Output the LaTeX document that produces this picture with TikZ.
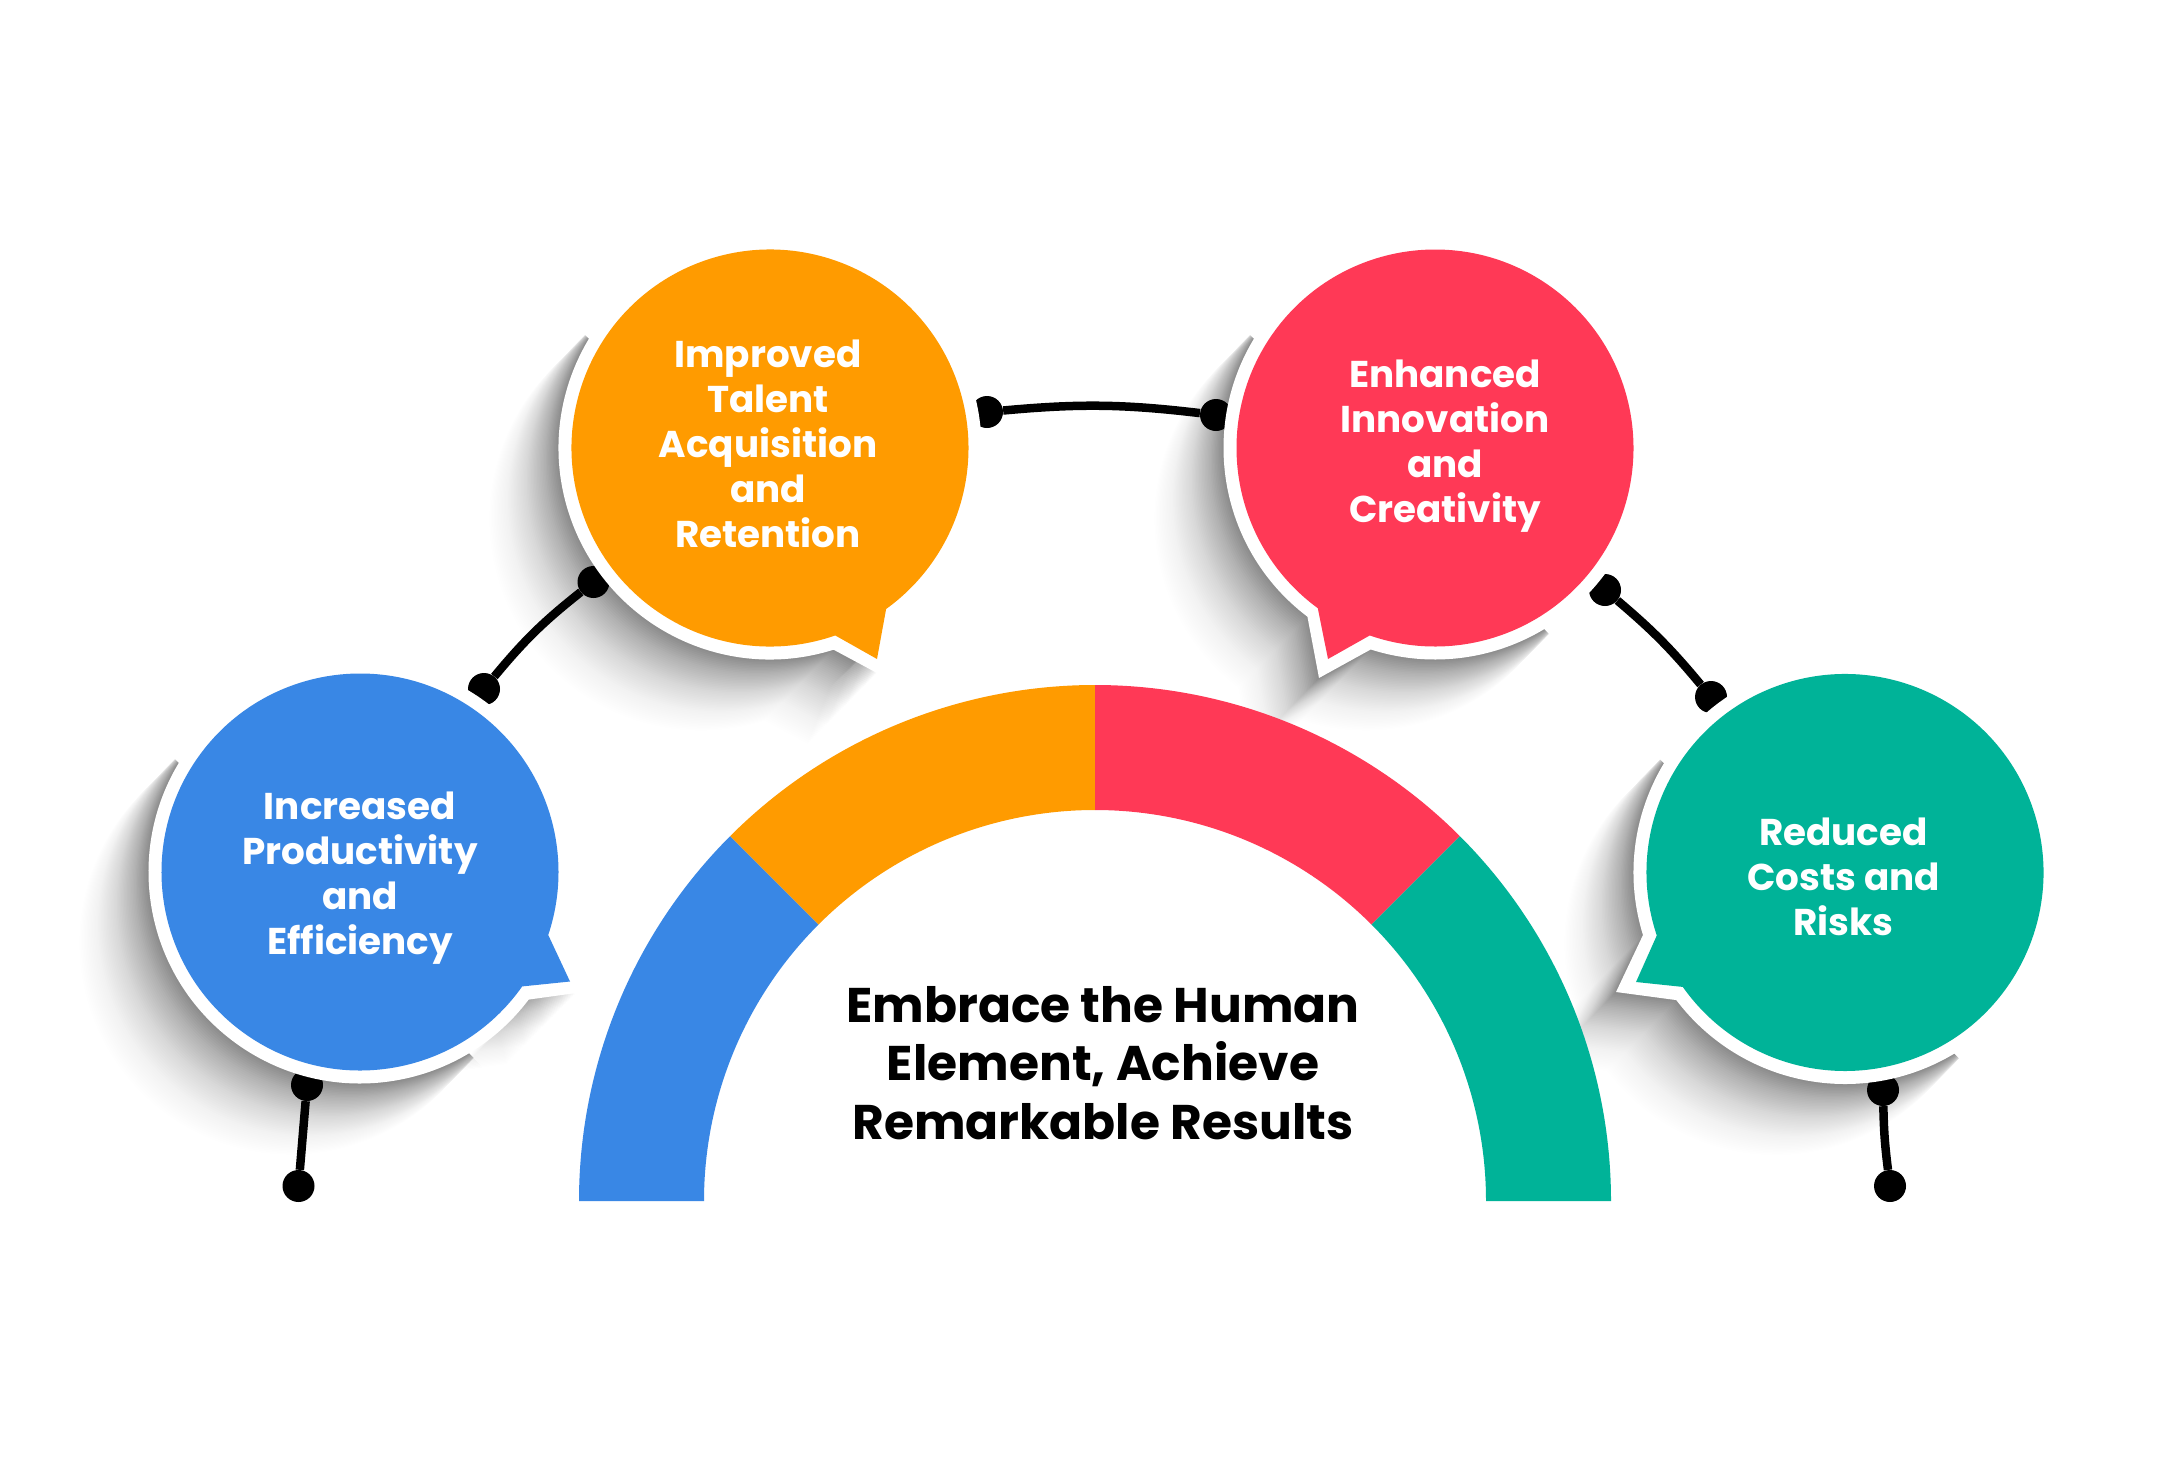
\documentclass[tikz,border=0pt]{standalone}
\usepackage{fontspec}
\setmainfont{Poppins}
\usepackage{tikz}
\usetikzlibrary{calc}

\definecolor{blueArc}{HTML}{3987E5}
\definecolor{orangeArc}{HTML}{FF9B00}
\definecolor{redArc}{HTML}{FF3956}
\definecolor{tealArc}{HTML}{00B398}

% circle with a tail: center, start angle, delta angle, radius, tip
\newcommand{\bubble}[5]{([shift={(#2:#4)}]#1) arc[start angle=#2, delta angle=#3, radius=#4] -- #5 -- cycle}
% arc part of the half ring: start angle, end angle
\newcommand{\ringpart}[2]{([shift={(#1:516)}]hub) arc[start angle=#1, end angle=#2, radius=516] -- ([shift={(#2:391)}]hub) arc[start angle=#2, end angle=#1, radius=391] -- cycle}

\begin{document}
\begin{tikzpicture}
      [x = 1pt, y = -1pt,
      dot/.style = {
         draw = none,
         fill = black,
         circle,
         inner sep = 0pt,
         minimum size = 32pt
      },
      wire/.style = {
         draw = black,
         line width = 8.5pt
      },
      halo/.style = {
         fill = black
      },
      label/.style = {
         text = white,
         align = center,
         font = \fontsize{37.3}{45}\selectfont\bfseries
      },
      title/.style = {
         text = black,
         align = center,
         font = \fontsize{48.7}{58.5}\selectfont\bfseries
      }]
      \useasboundingbox (0, 0) rectangle (2170, 1469);
      \fill[white] (0, 0) rectangle (2170, 1469);

      \coordinate (hub) at (1095, 1201);

      % soft shadows
      \foreach \bx/\by/\a/\d/\tx/\ty in {360/872/37.1/339/576/993,
                                         770/448/72.5/339.5/877/673,
                                         1435/448/127.1/340.6/1319/678,
                                         1845/872.5/162.8/340.1/1616/992} {
         \begin{scope}
            \clip ([shift = {(-336, -264)}]\bx,\by) -- ([shift = {(264, 336)}]\bx,\by)
               -- ([shift = {(-136, 736)}]\bx,\by) -- ([shift = {(-736, 136)}]\bx,\by) -- cycle;
            \foreach \t in {1,...,50} {
               \pgfmathsetmacro{\fade}{0.0164*(1-0.9*\t/50)}
               \fill[halo, opacity = \fade, shift = {({-1.44*\t}, {1.48*\t})}] \bubble{\bx,\by}{\a}{\d}{211.5}{(\tx, \ty)};
            }
         \end{scope}
      }
      % the blue tail points away from its shadow
      \foreach \t in {1,...,50} {
         \pgfmathsetmacro{\fade}{0.0164*(1-0.9*\t/50)}
         \fill[halo, opacity = \fade, shift = {({-1.44*\t}, {1.48*\t})}] \bubble{360,872}{37.1}{-21}{211.5}{(576, 993)};
      }

      % half ring
      \fill[blueArc] \ringpart{180}{225};
      \fill[orangeArc] \ringpart{225}{270};
      \fill[redArc] \ringpart{270}{315};
      \fill[tealArc] \ringpart{315}{360};

      % connectors
      \node[dot] (blueStem) at (298.5, 1186) {};
      \node[dot] (blueLow) at (307, 1085) {};
      \node[dot] (blueTop) at (484, 689) {};
      \node[dot] (orangeLow) at (593.5, 582) {};
      \node[dot] (orangeSide) at (987, 412) {};
      \node[dot] (redSide) at (1216, 415) {};
      \node[dot] (redLow) at (1605, 590) {};
      \node[dot] (tealTop) at (1711, 697) {};
      \node[dot] (tealLow) at (1883, 1090) {};
      \node[dot] (tealStem) at (1890, 1186) {};

      \draw[wire] (blueStem) -- (blueLow);
      \draw[wire] (blueTop) to[bend left = 6] (orangeLow);
      \draw[wire] (orangeSide) to[bend left = 6] (redSide);
      \draw[wire] (redLow) to[bend left = 5] (tealTop);
      \draw[wire] (tealLow) to[bend right = 3] (tealStem);

      % bubbles
      \fill[white] \bubble{360,872}{37.1}{339}{211.5}{(576, 993)};
      \fill[white] \bubble{770,448}{72.5}{339.5}{211.5}{(877, 673)};
      \fill[white] \bubble{1435,448}{127.1}{340.6}{211.5}{(1319, 678)};
      \fill[white] \bubble{1845,872.5}{162.8}{340.1}{211.5}{(1616, 992)};

      \fill[blueArc] \bubble{360,872}{35.2}{343.3}{198.5}{(570, 981.5)};
      \fill[orangeArc] \bubble{770,448}{70.8}{343.4}{198.5}{(877, 659)};
      \fill[redArc] \bubble{1435,448}{126.2}{343}{198.5}{(1328, 659)};
      \fill[tealArc] \bubble{1845,872.5}{161.5}{343.3}{198.5}{(1636, 982)};

      \node[label] (blueText) at (360, 878) {Increased\\Productivity\\and\\Efficiency};
      \node[label] (orangeText) at (768, 443.5) {Improved\\Talent\\Acquisition\\and\\Retention};
      \node[label] (redText) at (1445, 446.5) {Enhanced\\Innovation\\and\\Creativity};
      \node[label] (tealText) at (1843.5, 877) {Reduced\\Costs and\\Risks};
      \node[title] (mainText) at (1103, 1063) {Embrace the Human\\Element, Achieve\\Remarkable Results};
\end{tikzpicture}
\end{document}
